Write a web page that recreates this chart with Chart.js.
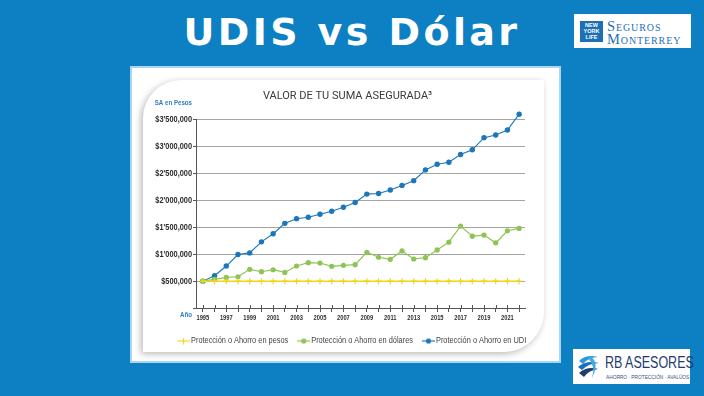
<!DOCTYPE html>
<html>
<head>
<meta charset="utf-8">
<script src="https://cdn.jsdelivr.net/npm/chart.js@4.4.1/dist/chart.umd.min.js"></script>
<style>
  html,body{margin:0;padding:0;}
  body{width:704px;height:396px;background:#0c80c2;position:relative;overflow:hidden;font-family:'DejaVu Sans',sans-serif;}
  #mainTitle{position:absolute;left:0;top:7px;width:704px;text-align:center;color:#fff;font-family:'DejaVu Sans',sans-serif;font-weight:bold;font-size:38px;letter-spacing:3.4px;line-height:50px;}
  #panel{position:absolute;left:130px;top:66px;width:431px;height:297px;background:#fff;border:2px solid #a9d5ef;box-sizing:border-box;}
  #card{position:absolute;left:143px;top:80px;width:401px;height:272px;background:#fff;border-radius:38px 0 40px 0;box-shadow:-2px 2px 7px rgba(0,0,0,0.28);}
  #clip{position:absolute;left:140px;top:72px;width:387px;height:285px;overflow:hidden;}
  #chart{position:absolute;left:0;top:0;}
  #nyl{position:absolute;left:574px;top:14px;width:117px;height:34px;background:#fff;}
  #nylsq{position:absolute;left:6px;top:7px;width:23px;height:21px;background:#1d6fb6;color:#fff;font:bold 5.5px/6px 'Liberation Sans',sans-serif;text-align:center;padding-top:1px;box-sizing:border-box;}
  .sm{position:absolute;left:33px;color:#1c6fb5;font-family:'Liberation Serif','DejaVu Serif',serif;font-variant:small-caps;font-size:14.5px;line-height:13px;letter-spacing:0.9px;white-space:nowrap;}
  #rb{position:absolute;left:573px;top:349px;width:117px;height:35px;background:#fff;}
  #rbname{position:absolute;left:32px;top:5px;color:#1f3b6f;font-family:'Liberation Sans',sans-serif;font-size:16px;line-height:18px;white-space:nowrap;transform:scaleX(0.78);transform-origin:0 0;}
  #rbsub{position:absolute;left:33px;top:25px;color:#3a4f7a;font-family:'Liberation Sans',sans-serif;font-size:6px;line-height:6px;white-space:nowrap;transform:scaleX(0.8);transform-origin:0 0;}
</style>
</head>
<body>
<div id="mainTitle">UDIS vs Dólar</div>
<div id="nyl">
  <div id="nylsq">NEW<br>YORK<br>LIFE</div>
  <div class="sm" style="top:6px;">Seguros</div>
  <div class="sm" style="top:19px;">Monterrey</div>
</div>
<div id="rb">
  <svg style="position:absolute;left:3px;top:3px;" width="26" height="29" viewBox="0 0 26 29">
    <path d="M3 9 Q10 2 22 5 Q13 5 7 12 Z" fill="#2a9ad8"/>
    <path d="M2 15 Q10 8 23 11 Q13 11 6 18 Z" fill="#1a6fb8"/>
    <path d="M3 21 Q11 14 22 17 Q13 18 8 25 Z" fill="#1f3b6f"/>
    <path d="M14 4 Q24 10 16 26 Q20 14 12 6 Z" fill="#3fa9e0"/>
  </svg>
  <div id="rbname">RB ASESORES</div>
  <div id="rbsub">AHORRO · PROTECCIÓN · AVALÚOS</div>
</div>
<div id="panel"></div>
<div id="card"></div>
<div id="clip"><canvas id="chart" width="460" height="285"></canvas></div>
<script>
// ---- data ----
const years = ["1995","1996","1997","1998","1999","2000","2001","2002","2003","2004","2005","2006","2007","2008","2009","2010","2011","2012","2013","2014","2015","2016","2017","2018","2019","2020","2021","2022"];
const pesos = [500000,500000,500000,500000,500000,500000,500000,500000,500000,500000,500000,500000,500000,500000,500000,500000,500000,500000,500000,500000,500000,500000,500000,500000,500000,500000,500000,500000];
const dolares = [500000,531000,569000,581000,719000,675000,712000,662000,781000,844000,837000,775000,794000,806000,1037000,944000,906000,1062000,912000,937000,1081000,1225000,1525000,1337000,1356000,1212000,1437000,1481000];
const udis = [500000,600000,781000,994000,1025000,1231000,1381000,1575000,1662000,1687000,1744000,1800000,1875000,1962000,2119000,2131000,2194000,2281000,2369000,2569000,2675000,2712000,2856000,2944000,3169000,3219000,3312000,3606000];
const yTickLabels = ["","$500,000","$1'000,000","$1'500,000","$2'000,000","$2'500,000","$3'000,000","$3'500,000"];
const seriesNames = ["Protección o Ahorro en pesos","Protección o Ahorro en dólares","Protección o Ahorro en UDIS"];
const chartTitle = "VALOR DE TU SUMA ASEGURADA³";
const yTitle = "SA en Pesos";
const xTitle = "Año";
const Y_STEP = 500000, Y_TOP = 3500000, Y_MAX = 4000000;

const SANS = "'Liberation Sans', Arial, sans-serif";
const SX = 0.82; // horizontal compression to mimic a condensed face
const YELLOW = '#efd51c', GREEN = '#8dc453', BLUE = '#1b76ba';
const CLEAR = 'rgba(0,0,0,0)';

function marker(color, style){
  const c = document.createElement('canvas'); c.width = 13; c.height = 7;
  const g = c.getContext('2d');
  g.strokeStyle = color; g.lineWidth = 1.2;
  g.beginPath(); g.moveTo(0,3.5); g.lineTo(13,3.5); g.stroke();
  if(style==='cross'){ g.beginPath(); g.moveTo(6.5,0.5); g.lineTo(6.5,6.5); g.stroke(); }
  else { g.fillStyle = color; g.beginPath(); g.arc(6.5,3.5,2.6,0,Math.PI*2); g.fill(); }
  return c;
}
const markers = [marker(YELLOW,'cross'), marker(GREEN,'circle'), marker(BLUE,'circle')];

function condText(ctx, text, x, y, font, color, align){
  ctx.save();
  ctx.font = font; ctx.fillStyle = color; ctx.textBaseline = 'middle'; ctx.textAlign = 'left';
  const w = ctx.measureText(text).width * SX;
  const x0 = align === 'right' ? x - w : (align === 'center' ? x - w / 2 : x);
  ctx.translate(x0, y); ctx.scale(SX, 1);
  ctx.fillText(text, 0, 0);
  ctx.restore();
  return w;
}
const inRange = c => c.tick && c.tick.value <= Y_TOP;

const extras = {
  id:'extras',
  beforeDatasetsDraw(chart){
    const {ctx, chartArea:ca, scales:{y}} = chart;
    ctx.save();
    ctx.strokeStyle = '#555'; ctx.lineWidth = 1; ctx.beginPath();
    const ax = Math.round(ca.left) - 0.5;
    ctx.moveTo(ax, y.getPixelForValue(Y_TOP) - 1); ctx.lineTo(ax, ca.bottom);
    ctx.stroke(); ctx.restore();
  },
  afterDraw(chart){
    const {ctx, chartArea:ca, scales:{x, y}} = chart;
    const topY = y.getPixelForValue(Y_TOP);
    ctx.save();
    ctx.font = "11px Roboto, 'Liberation Sans', sans-serif";
    ctx.fillStyle = '#3b3b3b'; ctx.textAlign = 'center'; ctx.textBaseline = 'middle';
    ctx.fillText(chartTitle, ca.left + 150.5, topY - 24);
    ctx.restore();
    condText(ctx, yTitle, ca.left - 5, topY - 17, "bold 7.5px " + SANS, '#2d7ec0', 'right');
    condText(ctx, xTitle, ca.left - 5, ca.bottom + 7, "bold 7.5px " + SANS, '#2d7ec0', 'right');
    y.ticks.forEach(t => { if (t.label) condText(ctx, String(t.label), ca.left - 5, y.getPixelForValue(t.value), "bold 9px " + SANS, '#2e2e2e', 'right'); });
    x.ticks.forEach((t, i) => { if (t.label) condText(ctx, String(t.label), x.getPixelForTick(i), ca.bottom + 10, "bold 7px " + SANS, '#2e2e2e', 'center'); });
    ctx.save();
    ctx.strokeStyle = '#555'; ctx.lineWidth = 1; ctx.beginPath();
    x.ticks.forEach((t,i)=>{ const px = Math.round(x.getPixelForTick(i)) + 0.5; ctx.moveTo(px, ca.bottom); ctx.lineTo(px, ca.bottom - 3); });
    ctx.stroke();
    ctx.restore();
    let lx = ca.left - 20;
    const ly = ca.bottom + 33;
    chart.data.datasets.forEach((ds, i) => {
      ctx.drawImage(markers[i], lx, ly - 3.5);
      const w = condText(ctx, ds.label, lx + 14, ly, "9px " + SANS, '#444', 'left');
      lx += 14 + w + 9;
    });
  }
};

new Chart(document.getElementById('chart'), {
  type:'line',
  data:{
    labels: years,
    datasets:[
      {label:seriesNames[0], data:pesos, borderColor:YELLOW, backgroundColor:YELLOW, borderWidth:1.5, pointStyle:'cross', pointRadius:3, pointBorderWidth:1.2, tension:0},
      {label:seriesNames[1], data:dolares, borderColor:GREEN, backgroundColor:GREEN, borderWidth:1.2, pointStyle:'circle', pointRadius:2.6, pointBorderWidth:0, tension:0},
      {label:seriesNames[2], data:udis, borderColor:BLUE, backgroundColor:BLUE, borderWidth:1.1, pointStyle:'circle', pointRadius:2.7, pointBorderWidth:0, tension:0}
    ]
  },
  options:{
    responsive:false, animation:false, devicePixelRatio:1,
    layout:{padding:{left:26, top:21, right:75, bottom:31}},
    plugins:{ title:{display:false}, tooltip:{enabled:false}, legend:{display:false} },
    scales:{
      x:{
        offset:true,
        grid:{display:true, drawOnChartArea:false, drawTicks:true, tickLength:4, tickColor:'#555'},
        border:{color:'#555'},
        ticks:{display:true, color:CLEAR, font:{size:7}, autoSkip:false, maxRotation:0,
          callback(v,i){ return i % 2 === 0 ? this.getLabelForValue(v) : ''; }},
        afterFit(s){ s.height = 18; }
      },
      y:{
        min:0, max:Y_MAX,
        grid:{
          tickLength:4,
          color: c => inRange(c) ? '#a4a4a4' : CLEAR,
          tickColor: c => inRange(c) ? '#555' : CLEAR
        },
        border:{display:false},
        ticks:{display:true, color:CLEAR, font:{size:7}, autoSkip:false, stepSize:Y_STEP,
          callback(v, i){ return v <= Y_TOP ? yTickLabels[i] : ''; }},
        afterFit(s){ s.width = 31; }
      }
    }
  },
  plugins:[extras]
});
</script>
</body>
</html>
